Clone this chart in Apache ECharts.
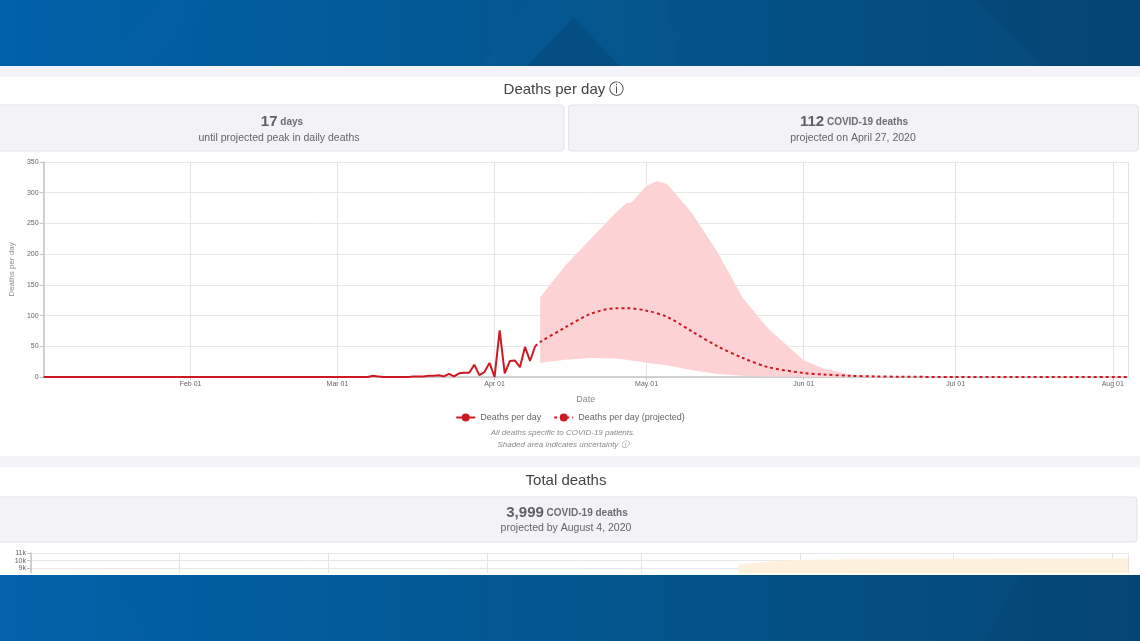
<!DOCTYPE html>
<html lang="en">
<head>
<meta charset="utf-8">
<title>Deaths per day</title>
<script src="https://cdn.jsdelivr.net/npm/echarts@6/dist/echarts.min.js"></script>
<style>
    html, body { margin: 0; padding: 0; background: #fff; overflow: hidden; }
    #main { width: 1140px; height: 641px; }
</style>
</head>
<body>
<div id="main"></div>
<script>
    var observedDates = ['2020-01-03', '2020-03-06', '2020-03-07', '2020-03-08', '2020-03-09', '2020-03-10', '2020-03-15', '2020-03-16', '2020-03-17', '2020-03-18', '2020-03-19', '2020-03-20', '2020-03-21', '2020-03-22', '2020-03-23', '2020-03-24', '2020-03-25', '2020-03-26', '2020-03-27', '2020-03-28', '2020-03-29', '2020-03-30', '2020-03-31', '2020-04-01', '2020-04-02', '2020-04-03', '2020-04-04', '2020-04-05', '2020-04-06', '2020-04-07', '2020-04-08', '2020-04-09'];
    var observedValues = [0, 0, 0, 2, 1, 0, 0, 1, 1, 1, 2, 2, 3, 1, 5, 1, 6, 7, 7, 20, 3, 8, 23, 0, 76, 6, 26, 27, 16, 49, 26, 50];

    // projection, same dates for the mean and both edges of the band
    var projectedDates = ['2020-04-09', '2020-04-10', '2020-04-15', '2020-04-20', '2020-04-25', '2020-04-27', '2020-05-01', '2020-05-05', '2020-05-10', '2020-05-15', '2020-05-20', '2020-05-25', '2020-06-01', '2020-06-05', '2020-06-10', '2020-06-15', '2020-06-20', '2020-07-01', '2020-08-04'];
    var projectedValues = [50, 57, 81, 103, 112, 112, 108, 98, 74, 50, 31, 16, 6.5, 4, 2, 1, 0.5, 0, 0];

    var bandDates = ['2020-04-10', '2020-04-15', '2020-04-20', '2020-04-25', '2020-04-27', '2020-04-28', '2020-05-01', '2020-05-03', '2020-05-05', '2020-05-07', '2020-05-10', '2020-05-15', '2020-05-20', '2020-05-25', '2020-06-01', '2020-06-05', '2020-06-10', '2020-06-15', '2020-06-20', '2020-07-01'];
    var bandLower = [23, 28, 31, 30, 28, 27, 23, 21, 19, 16, 11, 5, 2, 1, 0.3, 0, 0, 0, 0, 0];
    var bandUpper = [130, 182, 225, 268, 283, 284, 311, 319, 314, 296, 266, 203, 128, 79, 27, 14, 4, 1.5, 0.5, 0];

    // top of the total deaths band, the only part of that chart still in view
    var totalDates = ['2020-05-20', '2020-05-28', '2020-06-01', '2020-06-10', '2020-07-01', '2020-08-04'];
    var totalUpper = [9500, 10000, 10100, 10180, 10260, 10300];

    var yTicks = { max: 350, interval: 50 };
    var totalTicks = { max: 11000, interval: 1000 };

    var bandWidth = bandDates.map(function (d, i) { return bandUpper[i] - bandLower[i]; });

    function pairs(dates, values) {
        return dates.map(function (d, i) { return [d, values[i]]; });
    }

    var FONT = '"Liberation Sans", Arial, sans-serif';
    var RED = '#cb1a22';

    function txt(x, y, text, size, color, extra) {
        var style = { x: x, y: y, text: text, fontSize: size, fill: color, fontFamily: FONT, align: 'center', verticalAlign: 'middle' };
        for (var k in extra) { style[k] = extra[k]; }
        return { type: 'text', z: 20, style: style };
    }
    function box(x, y, w, h, fill, z, stroke, r) {
        return { type: 'rect', z: z, shape: { x: x, y: y, width: w, height: h, r: r || 0 }, style: { fill: fill, stroke: stroke || null, lineWidth: stroke ? 1 : 0 } };
    }
    function statRich() {
        return {
            rich: {
                big: { fontSize: 15, fontWeight: 'bold', fill: '#5f5f66', fontFamily: FONT },
                small: { fontSize: 10, fontWeight: 'bold', fill: '#6c6c72', fontFamily: FONT }
            }
        };
    }
    function blueBar(y, h) {
        return {
            type: 'rect', z: 100, shape: { x: 0, y: y, width: 1140, height: h },
            style: { fill: new echarts.graphic.LinearGradient(0, 0, 1, 0, [
                { offset: 0, color: '#0161a9' }, { offset: 0.5, color: '#03568f' }, { offset: 1, color: '#064877' }
            ]) }
        };
    }
    function shape(points, fill) {
        return { type: 'polygon', z: 101, shape: { points: points }, style: { fill: fill } };
    }

    var pageShapes = [
        // page panels
        box(0, 66, 1140, 11, '#f3f3f8', -5),
        box(0, 456, 1140, 11, '#f3f3f8', -5),
        box(-5, 105, 569, 46, '#f2f2f7', -4, '#e3e3e9', 3),
        box(568.5, 105, 570, 46, '#f2f2f7', -4, '#e3e3e9', 3),
        box(-5, 497, 1142, 45, '#f2f2f7', -4, '#e3e3e9', 3),
        // headings and stat cards
        txt(564, 90, 'Deaths per day \u24d8', 15, '#444'),
        txt(282, 122, '{big|17} {small|days}', 10, '#666', statRich()),
        txt(279, 138, 'until projected peak in daily deaths', 10.5, '#666'),
        txt(854, 122, '{big|112} {small|COVID-19 deaths}', 10, '#666', statRich()),
        txt(853, 138, 'projected on April 27, 2020', 10.5, '#666'),
        txt(566, 481, 'Total deaths', 15, '#444'),
        txt(567, 513, '{big|3,999} {small|COVID-19 deaths}', 10, '#666', statRich()),
        txt(566, 528.5, 'projected by August 4, 2020', 10.5, '#666'),
        // notes under the legend
        txt(563, 433, 'All deaths specific to COVID-19 patients.', 8, '#8a8a8a', { fontStyle: 'italic' }),
        txt(563, 445, 'Shaded area indicates uncertainty \u24d8', 8, '#8a8a8a', { fontStyle: 'italic' }),
        // station banner above and below the screenshot
        box(0, 573, 1140, 3, '#fff', 99),
        blueBar(0, 66),
        blueBar(575, 66),
        shape([[100, 66], [165, 0], [210, 0], [145, 66]], 'rgba(255,255,255,0.012)'),
        shape([[480, 66], [530, 0], [665, 0], [680, 66]], 'rgba(255,255,255,0.012)'),
        shape([[527, 66], [573, 18], [620, 66]], 'rgba(0,30,70,0.16)'),
        shape([[975, 0], [1045, 66], [1140, 66], [1140, 0]], 'rgba(0,20,50,0.06)'),
        shape([[105, 575], [150, 641], [0, 641], [0, 575]], 'rgba(255,255,255,0.012)'),
        shape([[1020, 575], [985, 641], [1140, 641], [1140, 575]], 'rgba(0,20,50,0.05)')
    ];

    function xAxisFor(gridIndex, showLabels) {
        return {
            type: 'time', gridIndex: gridIndex, min: '2020-01-03', max: '2020-08-04',
            name: showLabels ? 'Date' : '', nameLocation: 'middle', nameGap: 18,
            nameTextStyle: { fontSize: 9, color: '#8a8a8a', fontFamily: FONT },
            axisLine: { onZero: false, lineStyle: { color: '#c4c4c4', width: 1.5 } },
            axisTick: { show: true, length: 3, lineStyle: { color: '#c4c4c4' } },
            axisLabel: { show: showLabels, formatter: '{MMM} {dd}', fontSize: 7, color: '#666', fontFamily: FONT, margin: 4, showMinLabel: false, showMaxLabel: false, hideOverlap: false },
            splitLine: { show: true, lineStyle: { color: '#e4e4e4', width: 1 } }
        };
    }
    function yAxisFor(gridIndex, ticks, name, fmt) {
        return {
            type: 'value', gridIndex: gridIndex, min: 0, max: ticks.max, interval: ticks.interval,
            name: name, nameLocation: 'middle', nameGap: 27,
            nameTextStyle: { fontSize: 8, color: '#8a8a8a', fontFamily: FONT },
            axisLine: { show: true, lineStyle: { color: '#c4c4c4', width: 1.5 } },
            axisTick: { show: true, length: 4, lineStyle: { color: '#c4c4c4' } },
            axisLabel: { fontSize: 7, color: '#666', fontFamily: FONT, margin: 5, formatter: fmt },
            splitLine: { show: true, lineStyle: { color: '#e8e8e8', width: 1 } }
        };
    }

    var myChart = echarts.init(document.getElementById('main'));

    myChart.setOption({
        animation: false,
        backgroundColor: '#fff',
        textStyle: { fontFamily: FONT },
        graphic: { elements: pageShapes },
        grid: [
            { left: 31, right: 12, top: 162, height: 215 },
            { left: 31, right: 12, top: 553, height: 215 }
        ],
        xAxis: [xAxisFor(0, true), xAxisFor(1, false)],
        yAxis: [
            yAxisFor(0, yTicks, 'Deaths per day'),
            yAxisFor(1, totalTicks, '', function (v) { return v ? (v / 1000) + 'k' : '0'; })
        ],
        legend: {
            data: ['Deaths per day', 'Deaths per day (projected)'],
            top: 408, left: 'center', itemWidth: 19, itemHeight: 10, itemGap: 12,
            textStyle: { fontSize: 9, color: '#666', fontFamily: FONT }
        },
        series: [
            {
                name: 'band floor', type: 'line', stack: 'band', symbol: 'none', silent: true,
                lineStyle: { opacity: 0 }, data: pairs(bandDates, bandLower), z: 1
            },
            {
                name: 'Uncertainty', type: 'line', stack: 'band', symbol: 'none', silent: true,
                lineStyle: { opacity: 0 }, areaStyle: { color: '#fdd2d4', opacity: 1 },
                data: pairs(bandDates, bandWidth), z: 1
            },
            {
                name: 'Deaths per day', type: 'line', symbol: 'none',
                lineStyle: { color: RED, width: 2 }, itemStyle: { color: RED },
                data: pairs(observedDates, observedValues), z: 5
            },
            {
                name: 'Deaths per day (projected)', type: 'line', symbol: 'none', smooth: 0.3,
                lineStyle: { color: RED, width: 2, type: [3, 3] }, itemStyle: { color: RED },
                data: pairs(projectedDates, projectedValues), z: 5
            },
            {
                name: 'Total deaths uncertainty', type: 'line', xAxisIndex: 1, yAxisIndex: 1, symbol: 'none', silent: true,
                lineStyle: { opacity: 0 }, areaStyle: { color: '#fdf0dc', opacity: 1 },
                data: pairs(totalDates, totalUpper), z: 1
            }
        ]
    });
</script>
</body>
</html>
